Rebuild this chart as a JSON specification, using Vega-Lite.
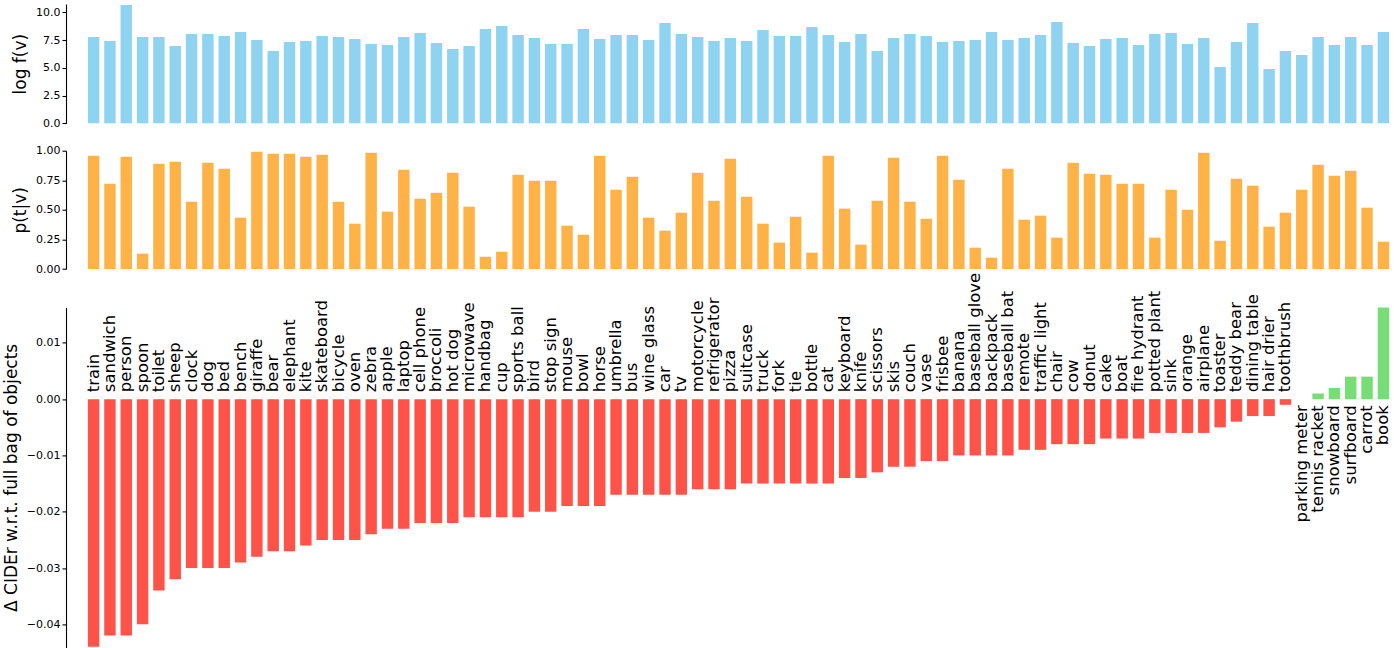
{
  "$schema": "https://vega.github.io/schema/vega-lite/v6.json",
  "padding": {"left": 2, "top": 4, "right": 1, "bottom": 2},
  "background": "white",
  "config": {
    "view": {"stroke": null},
    "font": "DejaVu Sans",
    "axis": {
      "domainColor": "#000", "domainWidth": 1.1, "tickColor": "#000", "tickSize": 4, "tickWidth": 1.1,
      "labelFont": "DejaVu Sans", "labelFontSize": 11, "labelColor": "#000", "labelPadding": 2, "labelOverlap": false,
      "titleFont": "DejaVu Sans", "titleFontSize": 17, "titleFontWeight": "normal", "titleColor": "#000", "titlePadding": 6,
      "grid": false
    },
    "axisY": {"offset": 17}
  },
  "data": {"values": [
    {"name": "train", "logf": 7.78, "ptv": 0.958, "dcider": -0.044},
    {"name": "sandwich", "logf": 7.42, "ptv": 0.721, "dcider": -0.042},
    {"name": "person", "logf": 10.66, "ptv": 0.949, "dcider": -0.042},
    {"name": "spoon", "logf": 7.78, "ptv": 0.130, "dcider": -0.040},
    {"name": "toilet", "logf": 7.78, "ptv": 0.890, "dcider": -0.034},
    {"name": "sheep", "logf": 6.97, "ptv": 0.907, "dcider": -0.032},
    {"name": "clock", "logf": 8.05, "ptv": 0.569, "dcider": -0.030},
    {"name": "dog", "logf": 8.05, "ptv": 0.899, "dcider": -0.030},
    {"name": "bed", "logf": 7.87, "ptv": 0.848, "dcider": -0.030},
    {"name": "bench", "logf": 8.23, "ptv": 0.434, "dcider": -0.029},
    {"name": "giraffe", "logf": 7.51, "ptv": 0.992, "dcider": -0.028},
    {"name": "bear", "logf": 6.52, "ptv": 0.975, "dcider": -0.027},
    {"name": "elephant", "logf": 7.33, "ptv": 0.975, "dcider": -0.027},
    {"name": "kite", "logf": 7.42, "ptv": 0.949, "dcider": -0.026},
    {"name": "skateboard", "logf": 7.87, "ptv": 0.966, "dcider": -0.025},
    {"name": "bicycle", "logf": 7.78, "ptv": 0.569, "dcider": -0.025},
    {"name": "oven", "logf": 7.60, "ptv": 0.383, "dcider": -0.025},
    {"name": "zebra", "logf": 7.15, "ptv": 0.983, "dcider": -0.024},
    {"name": "apple", "logf": 7.06, "ptv": 0.485, "dcider": -0.023},
    {"name": "laptop", "logf": 7.78, "ptv": 0.839, "dcider": -0.023},
    {"name": "cell phone", "logf": 8.14, "ptv": 0.594, "dcider": -0.022},
    {"name": "broccoli", "logf": 7.24, "ptv": 0.645, "dcider": -0.022},
    {"name": "hot dog", "logf": 6.70, "ptv": 0.814, "dcider": -0.022},
    {"name": "microwave", "logf": 6.97, "ptv": 0.527, "dcider": -0.021},
    {"name": "handbag", "logf": 8.50, "ptv": 0.104, "dcider": -0.021},
    {"name": "cup", "logf": 8.77, "ptv": 0.146, "dcider": -0.021},
    {"name": "sports ball", "logf": 7.96, "ptv": 0.797, "dcider": -0.021},
    {"name": "bird", "logf": 7.69, "ptv": 0.746, "dcider": -0.020},
    {"name": "stop sign", "logf": 7.15, "ptv": 0.746, "dcider": -0.020},
    {"name": "mouse", "logf": 7.15, "ptv": 0.366, "dcider": -0.019},
    {"name": "bowl", "logf": 8.50, "ptv": 0.290, "dcider": -0.019},
    {"name": "horse", "logf": 7.60, "ptv": 0.958, "dcider": -0.019},
    {"name": "umbrella", "logf": 7.96, "ptv": 0.670, "dcider": -0.017},
    {"name": "bus", "logf": 7.96, "ptv": 0.780, "dcider": -0.017},
    {"name": "wine glass", "logf": 7.51, "ptv": 0.434, "dcider": -0.017},
    {"name": "car", "logf": 9.04, "ptv": 0.324, "dcider": -0.017},
    {"name": "tv", "logf": 8.05, "ptv": 0.476, "dcider": -0.017},
    {"name": "motorcycle", "logf": 7.78, "ptv": 0.814, "dcider": -0.016},
    {"name": "refrigerator", "logf": 7.42, "ptv": 0.577, "dcider": -0.016},
    {"name": "pizza", "logf": 7.69, "ptv": 0.932, "dcider": -0.016},
    {"name": "suitcase", "logf": 7.42, "ptv": 0.611, "dcider": -0.015},
    {"name": "truck", "logf": 8.41, "ptv": 0.383, "dcider": -0.015},
    {"name": "fork", "logf": 7.87, "ptv": 0.223, "dcider": -0.015},
    {"name": "tie", "logf": 7.87, "ptv": 0.442, "dcider": -0.015},
    {"name": "bottle", "logf": 8.68, "ptv": 0.138, "dcider": -0.015},
    {"name": "cat", "logf": 7.96, "ptv": 0.958, "dcider": -0.015},
    {"name": "keyboard", "logf": 7.33, "ptv": 0.510, "dcider": -0.014},
    {"name": "knife", "logf": 8.05, "ptv": 0.206, "dcider": -0.014},
    {"name": "scissors", "logf": 6.52, "ptv": 0.577, "dcider": -0.013},
    {"name": "skis", "logf": 7.69, "ptv": 0.941, "dcider": -0.012},
    {"name": "couch", "logf": 8.05, "ptv": 0.569, "dcider": -0.012},
    {"name": "vase", "logf": 7.87, "ptv": 0.425, "dcider": -0.011},
    {"name": "frisbee", "logf": 7.33, "ptv": 0.958, "dcider": -0.011},
    {"name": "banana", "logf": 7.42, "ptv": 0.755, "dcider": -0.010},
    {"name": "baseball glove", "logf": 7.51, "ptv": 0.180, "dcider": -0.010},
    {"name": "backpack", "logf": 8.23, "ptv": 0.096, "dcider": -0.010},
    {"name": "baseball bat", "logf": 7.51, "ptv": 0.848, "dcider": -0.010},
    {"name": "remote", "logf": 7.69, "ptv": 0.417, "dcider": -0.009},
    {"name": "traffic light", "logf": 7.96, "ptv": 0.451, "dcider": -0.009},
    {"name": "chair", "logf": 9.13, "ptv": 0.265, "dcider": -0.008},
    {"name": "cow", "logf": 7.24, "ptv": 0.899, "dcider": -0.008},
    {"name": "donut", "logf": 6.97, "ptv": 0.806, "dcider": -0.008},
    {"name": "cake", "logf": 7.60, "ptv": 0.797, "dcider": -0.007},
    {"name": "boat", "logf": 7.69, "ptv": 0.721, "dcider": -0.007},
    {"name": "fire hydrant", "logf": 7.06, "ptv": 0.721, "dcider": -0.007},
    {"name": "potted plant", "logf": 8.05, "ptv": 0.265, "dcider": -0.006},
    {"name": "sink", "logf": 8.14, "ptv": 0.670, "dcider": -0.006},
    {"name": "orange", "logf": 7.15, "ptv": 0.501, "dcider": -0.006},
    {"name": "airplane", "logf": 7.69, "ptv": 0.983, "dcider": -0.006},
    {"name": "toaster", "logf": 5.08, "ptv": 0.239, "dcider": -0.005},
    {"name": "teddy bear", "logf": 7.33, "ptv": 0.763, "dcider": -0.004},
    {"name": "dining table", "logf": 9.04, "ptv": 0.704, "dcider": -0.003},
    {"name": "hair drier", "logf": 4.89, "ptv": 0.358, "dcider": -0.003},
    {"name": "toothbrush", "logf": 6.52, "ptv": 0.476, "dcider": -0.001},
    {"name": "parking meter", "logf": 6.16, "ptv": 0.670, "dcider": 0.0},
    {"name": "tennis racket", "logf": 7.78, "ptv": 0.882, "dcider": 0.001},
    {"name": "snowboard", "logf": 7.06, "ptv": 0.789, "dcider": 0.002},
    {"name": "surfboard", "logf": 7.78, "ptv": 0.831, "dcider": 0.004},
    {"name": "carrot", "logf": 7.06, "ptv": 0.518, "dcider": 0.004},
    {"name": "book", "logf": 8.23, "ptv": 0.231, "dcider": 0.0163}
  ]},
  "bounds": "flush",
  "spacing": 26.7,
  "vconcat": [
    {
      "width": 1311, "height": 119.3,
      "mark": {"type": "bar", "color": "#8ed4f0"},
      "encoding": {
        "x": {"field": "name", "type": "nominal", "sort": null, "axis": null, "scale": {"paddingInner": 0.3, "paddingOuter": 0.3}},
        "y": {"field": "logf", "type": "quantitative", "title": "log f(v)", "scale": {"domain": [0, 10.75], "nice": false}, "axis": {"values": [0, 2.5, 5, 7.5, 10], "format": ".1f"}}
      }
    },
    {
      "width": 1311, "height": 118.3,
      "mark": {"type": "bar", "color": "#ffb347"},
      "encoding": {
        "x": {"field": "name", "type": "nominal", "sort": null, "axis": null, "scale": {"paddingInner": 0.3, "paddingOuter": 0.3}},
        "y": {"field": "ptv", "type": "quantitative", "title": "p(t|v)", "scale": {"domain": [0, 1], "nice": false}, "axis": {"values": [0, 0.25, 0.5, 0.75, 1], "format": ".2f"}}
      }
    },
    {
      "width": 1311, "height": 351,
      "encoding": {
        "x": {"field": "name", "type": "nominal", "sort": null, "axis": null, "scale": {"paddingInner": 0.3, "paddingOuter": 0.3}}
      },
      "layer": [
        {
          "mark": {"type": "bar"},
          "encoding": {
            "y": {"field": "dcider", "type": "quantitative", "title": "Δ CIDEr w.r.t. full bag of objects", "scale": {"domain": [-0.0441, 0.0163], "range": [351, 11], "nice": false, "zero": false}, "axis": {"values": [-0.04, -0.03, -0.02, -0.01, 0, 0.01], "format": ".2f"}},
            "color": {"condition": {"test": "datum.dcider > 0", "value": "#77dd77"}, "value": "#ff5349"}
          }
        },
        {
          "transform": [{"filter": "datum.dcider < 0"}],
          "mark": {"type": "text", "angle": 270, "align": "left", "baseline": "middle", "dx": 7, "font": "DejaVu Sans", "fontSize": 16.5, "color": "#000"},
          "encoding": {
            "y": {"datum": 0, "type": "quantitative", "title": "Δ CIDEr w.r.t. full bag of objects"},
            "text": {"field": "name"}
          }
        },
        {
          "transform": [{"filter": "datum.dcider >= 0"}],
          "mark": {"type": "text", "angle": 270, "align": "right", "baseline": "middle", "dx": -6, "font": "DejaVu Sans", "fontSize": 16.5, "color": "#000"},
          "encoding": {
            "y": {"datum": 0, "type": "quantitative", "title": "Δ CIDEr w.r.t. full bag of objects"},
            "text": {"field": "name"}
          }
        }
      ]
    }
  ]
}
